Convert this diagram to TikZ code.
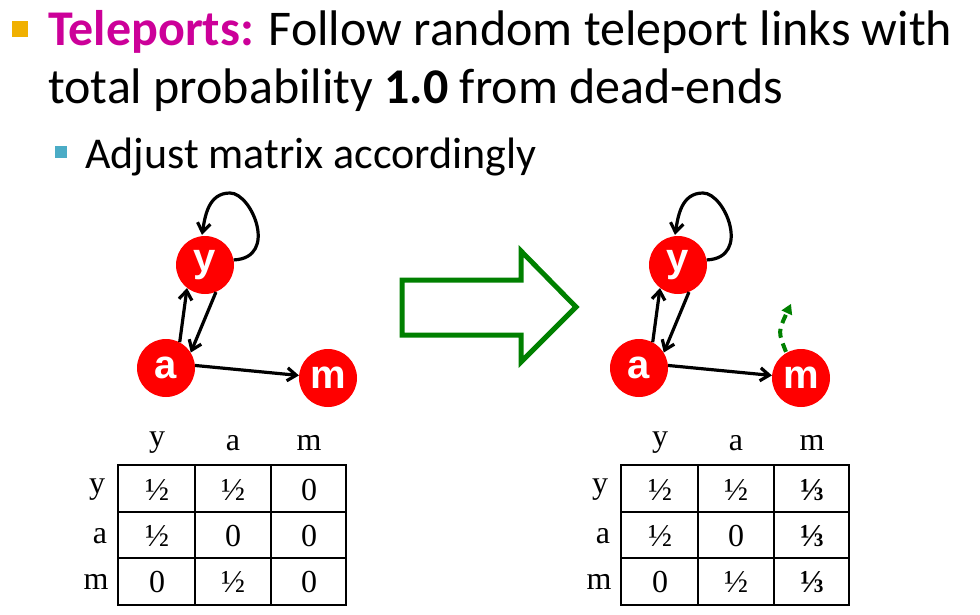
\documentclass[tikz,border=0pt]{standalone}
\usepackage{fontspec}
\setmainfont{Carlito}
\newfontfamily\tabfont{Liberation Serif}
\newfontfamily\nodefont{Liberation Sans}
\usetikzlibrary{arrows.meta}
\definecolor{mag}{RGB}{204,0,153}
\definecolor{bulor}{RGB}{240,176,0}
\definecolor{bulbl}{RGB}{75,172,198}
\definecolor{grn}{RGB}{0,128,0}
\tikzset{
 vert/.style={circle,fill=red,minimum size=58pt,inner sep=0pt,text=white,font=\nodefont\bfseries\fontsize{40}{40}\selectfont},
 edge/.style={-{Straight Barb[length=9pt,width=13pt,line width=3.2pt]},line width=3.2pt},
 cell/.style={font=\tabfont\fontsize{32}{32}\selectfont},
 bcell/.style={font=\tabfont\bfseries\fontsize{32}{32}\selectfont},
 title/.style={anchor=base west,font=\fontsize{50}{50}\selectfont,inner sep=0pt}
}
\begin{document}
\begin{tikzpicture}[x=1pt,y=-1pt]
\useasboundingbox (0,0) rectangle (980,614);
\fill[bulor] (12,21) rectangle (28,37);
\fill[bulbl] (55,146) rectangle (67,158);
\node[title] (t1) at (48,45) {\textcolor{mag}{\textbf{Teleports:}} Follow random teleport links with};
\node[title] (t2) at (48,103) {total probability \textbf{1.0} from dead-ends};
\node[title,font=\fontsize{44}{44}\selectfont] (t3) at (85,168) {Adjust matrix accordingly};
\foreach \p/\dx in {L/0,R/473}{
 \node[vert] (y\p) at (205+\dx,265) {y};
 \node[vert] (a\p) at (166+\dx,368) {a};
 \node[vert] (m\p) at (328+\dx,378) {m};
 \draw[edge] (a\p.62) -- (y\p.232);
 \draw[edge] (y\p.292) -- (a\p.32);
 \draw[edge] (a\p.5) -- (m\p.175);
 \draw[edge] (y\p.10) .. controls +(45,-2) and +(22,0) .. ([shift={(25,-72)}]y\p.center) .. controls +(-22,0) and +(3,-18) .. ([shift={(-3,-1)}]y\p.north);
}
\draw[grn,dash pattern=on 9pt off 6pt,line width=4pt,-{Triangle[length=10pt,width=11pt]}] ([shift={(-15,3)}]mR.north) coordinate (g1) .. controls +(-8,-20) .. ([shift={(-10,-45)}]mR.north) coordinate (g2);
\draw[grn,line width=5pt,line join=miter] (402,280) -- (521,280) -- (521,251) -- (576,307) -- (521,362) -- (521,335) -- (402,335) -- cycle;
\foreach \x/\lab in {0/L,503/R}{
 \draw[line width=2pt] (118+\x,465) rectangle (346+\x,605);
 \draw[line width=2pt] (195+\x,465) -- (195+\x,605) (271+\x,465) -- (271+\x,605)
   (118+\x,512) -- (346+\x,512) (118+\x,558) -- (346+\x,558);
 \node[cell] (hy\lab) at (157+\x,443) {y};
 \node[cell] (ha\lab) at (233+\x,443) {a};
 \node[cell] (hm\lab) at (309+\x,443) {m};
 \node[cell] (ry\lab) at (97+\x,490) {y};
 \node[cell] (ra\lab) at (100+\x,536) {a};
 \node[cell] (rm\lab) at (96+\x,582) {m};
 \node[cell] (c11\lab) at (157+\x,490) {½};
 \node[cell] (c12\lab) at (233+\x,490) {½};
 \node[cell] (c21\lab) at (157+\x,536) {½};
 \node[cell] (c22\lab) at (233+\x,536) {0};
 \node[cell] (c31\lab) at (157+\x,582) {0};
 \node[cell] (c32\lab) at (233+\x,582) {½};
}
\node[cell] (c13L) at (309,490) {0};
\node[cell] (c23L) at (309,536) {0};
\node[cell] (c33L) at (309,582) {0};
\node[bcell] (c13R) at (812,490) {⅓};
\node[bcell] (c23R) at (812,536) {⅓};
\node[bcell] (c33R) at (812,582) {⅓};
\end{tikzpicture}
\end{document}
